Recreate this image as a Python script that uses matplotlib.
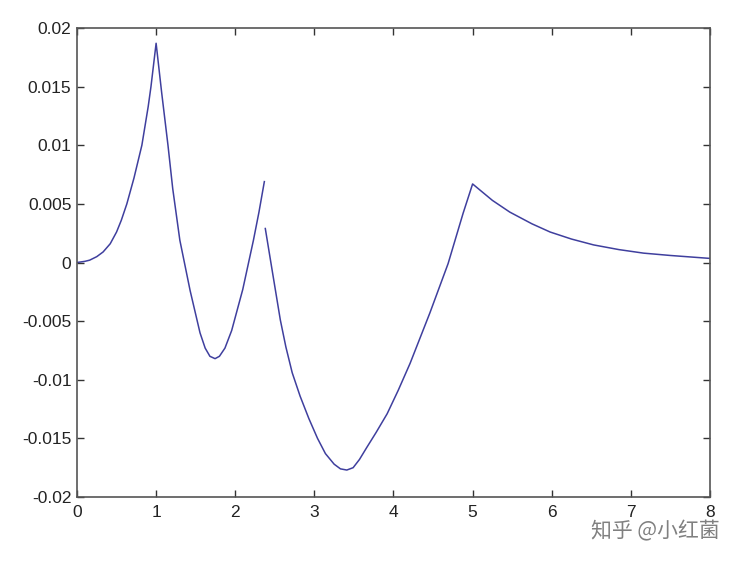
import matplotlib
matplotlib.use("Agg")
import matplotlib.pyplot as plt

# first branch: 0 .. ~2.37
x1 = [0.0, 0.1, 0.16, 0.25, 0.33, 0.42, 0.5, 0.56, 0.63, 0.72, 0.82, 0.9, 0.935, 1.0,
      1.07, 1.15, 1.21, 1.30, 1.43, 1.555, 1.62, 1.68, 1.745, 1.80, 1.87, 1.955, 2.095, 2.23, 2.30, 2.368]
y1 = [0.0, 0.0001, 0.0002, 0.0005, 0.0009, 0.0016, 0.0026, 0.0036, 0.005, 0.0072, 0.01, 0.0133, 0.015, 0.0187,
      0.0145, 0.0100, 0.0063, 0.0019, -0.0024, -0.0060, -0.0073, -0.0080, -0.0082, -0.0080, -0.0073, -0.0058,
      -0.0023, 0.0019, 0.0043, 0.0069]

# second branch: ~2.38 .. 8
x2 = [2.38, 2.465, 2.57, 2.64, 2.72, 2.82, 2.93, 3.04, 3.14, 3.25, 3.33, 3.41, 3.49, 3.57, 3.66, 3.78, 3.92,
      4.06, 4.21, 4.46, 4.69, 4.88, 5.0,
      5.25, 5.47, 5.75, 5.98, 6.25, 6.53, 6.85, 7.16, 7.5, 7.8, 8.0]
y2 = [0.0029, -0.0006, -0.0049, -0.0072, -0.0094, -0.0114, -0.0133, -0.0150, -0.0163, -0.0172, -0.0176,
      -0.0177, -0.0175, -0.0168, -0.0158, -0.0145, -0.0129, -0.0109, -0.0086,
      -0.0043, -0.0001, 0.0042, 0.0067,
      0.0053, 0.0043, 0.0033, 0.0026, 0.0020, 0.0015, 0.0011, 0.0008, 0.0006, 0.00045, 0.00035]

xticks = [0, 1, 2, 3, 4, 5, 6, 7, 8]
yticks = [-0.02, -0.015, -0.01, -0.005, 0, 0.005, 0.01, 0.015, 0.02]
ylabels = ["-0.02", "-0.015", "-0.01", "-0.005", "0", "0.005", "0.01", "0.015", "0.02"]

plt.rcParams["font.family"] = ["Liberation Sans", "DejaVu Sans"]

fig = plt.figure(figsize=(7.46, 5.66), dpi=100)
ax = fig.add_axes([0.1032, 0.1219, 0.8485, 0.8286])

line_color = "#3f3f9e"
ax.plot(x1, y1, color=line_color, linewidth=1.1)
ax.plot(x2, y2, color=line_color, linewidth=1.1)

ax.set_xlim(0, 8)
ax.set_ylim(-0.02, 0.02)
ax.set_xticks(xticks)
ax.set_xticklabels([str(t) for t in xticks])
ax.set_yticks(yticks)
ax.set_yticklabels(ylabels)

for s in ax.spines.values():
    s.set_color("#555555")
    s.set_linewidth(1.2)
ax.tick_params(direction="in", length=5, width=1, color="#333333",
               top=True, right=True, labelsize=12.5, labelcolor="#222222")
ax.tick_params(axis="x", pad=6)
ax.tick_params(axis="y", pad=4)

fig.text(0.878, 0.062, "知乎 @小红菌", fontsize=15, color="#808080",
         ha="center", va="center", family=["Noto Sans CJK SC", "DejaVu Sans"])

fig.savefig("out.png", dpi=100)
